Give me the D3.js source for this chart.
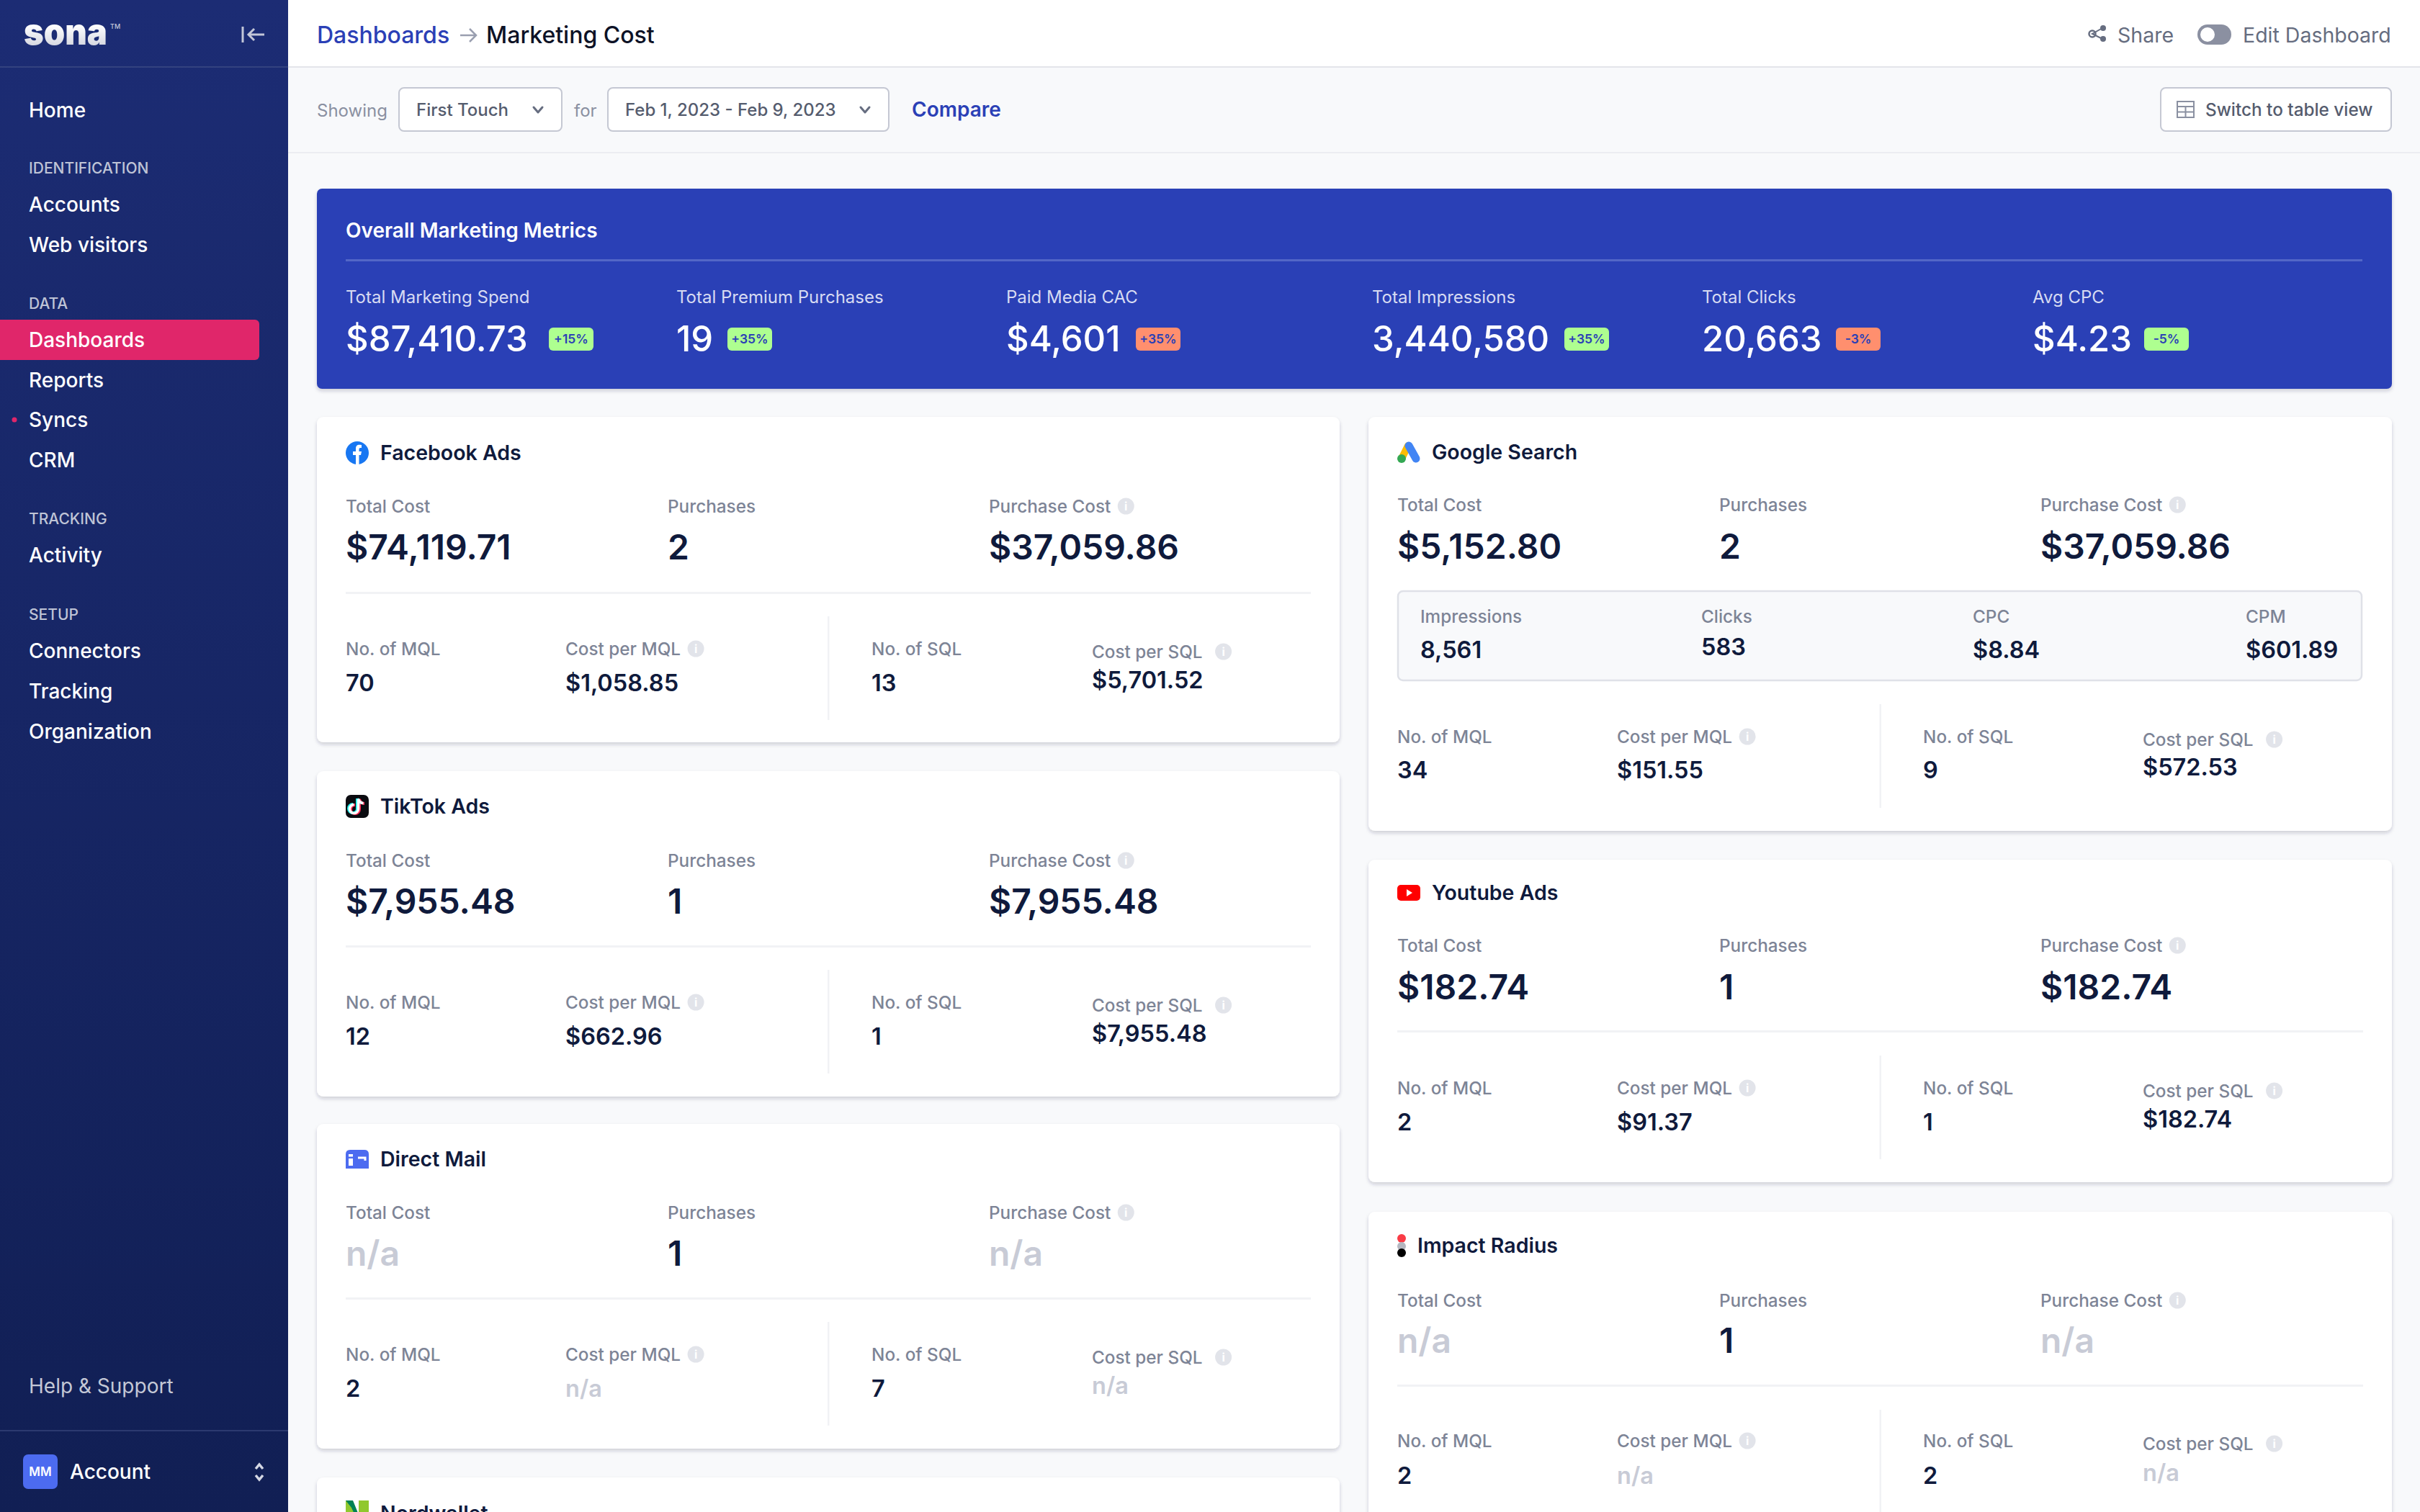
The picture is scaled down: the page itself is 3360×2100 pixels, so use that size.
<!DOCTYPE html>
<html>
<head>
<meta charset="utf-8">
<title>Marketing Cost</title>
<script src="https://cdn.jsdelivr.net/npm/d3@7"></script>
<style>
  html, body { margin: 0; padding: 0; background: #f8f9fb; overflow: hidden; }
  svg { display: block; }
  text { font-family: Inter, "Noto Sans", sans-serif; }
</style>
</head>
<body>
<script>
// Sidebar text
var navItems = ["Home", "Accounts", "Web visitors", "Dashboards", "Reports", "Syncs", "CRM", "Activity", "Connectors", "Tracking", "Organization"];
var navSections = ["IDENTIFICATION", "DATA", "TRACKING", "SETUP"];

// Overall metrics banner
var metricLabels = ["Total Marketing Spend", "Total Premium Purchases", "Paid Media CAC", "Total Impressions", "Total Clicks", "Avg CPC"];
var metricValues = ["$87,410.73", "19", "$4,601", "3,440,580", "20,663", "$4.23"];
var metricBadges = ["+15%", "+35%", "+35%", "+35%", "-3%", "-5%"];
var metricBadgeGood = [true, true, false, true, false, true];

// Channel cards, same order in every list
var channels = ["Facebook Ads", "TikTok Ads", "Direct Mail", "Nordwallet", "Google Search", "Youtube Ads", "Impact Radius"];
var totalCosts = ["$74,119.71", "$7,955.48", "n/a", null, "$5,152.80", "$182.74", "n/a"];
var purchases = ["2", "1", "1", null, "2", "1", "1"];
var purchaseCosts = ["$37,059.86", "$7,955.48", "n/a", null, "$37,059.86", "$182.74", "n/a"];
var mqlCounts = ["70", "12", "2", null, "34", "2", "2"];
var costPerMql = ["$1,058.85", "$662.96", "n/a", null, "$151.55", "$91.37", "n/a"];
var sqlCounts = ["13", "1", "7", null, "9", "1", "2"];
var costPerSql = ["$5,701.52", "$7,955.48", "n/a", null, "$572.53", "$182.74", "n/a"];

// Google Search detail strip
var detailLabels = ["Impressions", "Clicks", "CPC", "CPM"];
var detailValues = ["8,561", "583", "$8.84", "$601.89"];

// Colours
var navy = "#0f1a3c", grey = "#7d8496", naGrey = "#c8cbd6", blue = "#2b40b6", rule = "#f1f2f5";

// Page sizes
var svgWidth = 3360, svgHeight = 2100;

var svg = d3.select("body").append("svg")
  .attr("width", svgWidth)
  .attr("height", svgHeight)
  .attr("viewBox", `0 0 ${svgWidth} ${svgHeight}`);

var defs = svg.append("defs");

var sideGrad = defs.append("linearGradient").attr("id", "sideGrad")
  .attr("x1", 0).attr("y1", 0).attr("x2", 0).attr("y2", 1);
sideGrad.append("stop").attr("offset", "0%").attr("stop-color", "#1c2c74");
sideGrad.append("stop").attr("offset", "100%").attr("stop-color", "#111f54");

var logoGrad = defs.append("linearGradient").attr("id", "logoGrad")
  .attr("x1", 0).attr("y1", 0).attr("x2", 0).attr("y2", 1);
logoGrad.append("stop").attr("offset", "35%").attr("stop-color", "#ffffff");
logoGrad.append("stop").attr("offset", "85%").attr("stop-color", "#d4d6e0");

var shadow = defs.append("filter").attr("id", "cardShadow")
  .attr("x", "-3%").attr("y", "-3%").attr("width", "106%").attr("height", "106%");
shadow.append("feDropShadow").attr("dx", 0).attr("dy", 3).attr("stdDeviation", 2.5)
  .attr("flood-color", "#1a2040").attr("flood-opacity", 0.2);

// Text helper, y is the middle of the capitals
function put(g, x, y, str, size, weight, color, anchor) {
  return g.append("text")
    .attr("x", x).attr("y", y).attr("dy", "0.36em")
    .attr("font-size", size).attr("font-weight", weight)
    .attr("fill", color).attr("text-anchor", anchor || "start")
    .text(str);
}

function widthOf(sel) {
  return sel.node().getComputedTextLength();
}

function infoIcon(g, cx, cy) {
  g.append("circle").attr("cx", cx).attr("cy", cy).attr("r", 11.5).attr("fill", "#e2e4ea");
  put(g, cx, cy, "i", 16, 700, "#fff", "middle");
}

function chevron(g, cx, cy, color) {
  g.append("path")
    .attr("d", `M${cx - 6},${cy - 3} L${cx},${cy + 4} L${cx + 6},${cy - 3}`)
    .attr("fill", "none").attr("stroke", color).attr("stroke-width", 3)
    .attr("stroke-linecap", "round").attr("stroke-linejoin", "round");
}

// ---- Sidebar ----
var side = svg.append("g");
side.append("rect").attr("width", 400).attr("height", svgHeight).attr("fill", "url(#sideGrad)");
side.append("rect").attr("y", 92).attr("width", 400).attr("height", 2).attr("fill", "#33427f");
side.append("rect").attr("y", 1986).attr("width", 400).attr("height", 2).attr("fill", "#2c3a70");

put(side, 33, 43.5, "sona", 50, 900, "url(#logoGrad)")
  .attr("textLength", 116).attr("lengthAdjust", "spacingAndGlyphs");
put(side, 153, 37, "TM", 9, 500, "#c5c9dc");

side.append("path")
  .attr("d", "M337,37 V59 M367,48 H345 M353,40 L345,48 L353,56")
  .attr("fill", "none").attr("stroke", "#c3c7d8").attr("stroke-width", 3);

var navY = d3.scaleOrdinal(navItems, [153, 284, 340, 472, 528, 583, 639, 771, 904, 960, 1016]);
var sectionY = d3.scaleOrdinal(navSections, [233, 421, 720, 853]);

side.append("rect").attr("x", -10).attr("y", 444).attr("width", 370).attr("height", 56)
  .attr("rx", 6).attr("fill", "#e0266a");
side.append("circle").attr("cx", 20).attr("cy", 583).attr("r", 3.5).attr("fill", "#e0266a");

side.selectAll(".navItem").data(navItems).enter().append("text")
  .attr("class", "navItem")
  .attr("x", 40).attr("y", d => navY(d)).attr("dy", "0.36em")
  .attr("font-size", 28).attr("font-weight", 500).attr("fill", "#fff")
  .text(d => d);

side.selectAll(".navSection").data(navSections).enter().append("text")
  .attr("class", "navSection")
  .attr("x", 40).attr("y", d => sectionY(d)).attr("dy", "0.36em")
  .attr("font-size", 21).attr("font-weight", 500).attr("fill", "#bfc4d6")
  .text(d => d);

put(side, 40, 1925, "Help & Support", 28, 400, "#c4c8d6");
side.append("rect").attr("x", 32).attr("y", 2020).attr("width", 48).attr("height", 48)
  .attr("rx", 7).attr("fill", "#4c6bf0");
put(side, 56, 2044, "MM", 17, 600, "#fff", "middle");
put(side, 97, 2044, "Account", 28, 500, "#fff");
side.append("path")
  .attr("d", "M355,2040 L360,2034 L365,2040 M355,2049 L360,2055 L365,2049")
  .attr("fill", "none").attr("stroke", "#d5d8e4").attr("stroke-width", 3.5);

// ---- Header ----
var head = svg.append("g");
head.append("rect").attr("x", 400).attr("width", svgWidth - 400).attr("height", 92).attr("fill", "#fff");
head.append("rect").attr("x", 400).attr("y", 92).attr("width", svgWidth - 400).attr("height", 2).attr("fill", "#e4e5ea");

put(head, 440, 48.5, "Dashboards", 32, 500, blue);
head.append("path")
  .attr("d", "M639,49 H660 M652,40 L661,49 L652,58")
  .attr("fill", "none").attr("stroke", "#9a9fb0").attr("stroke-width", 2.5);
put(head, 675, 48.5, "Marketing Cost", 32, 500, "#0d1226");

[[2920, 39], [2920, 54]].forEach(function(p) {
  head.append("circle").attr("cx", p[0]).attr("cy", p[1]).attr("r", 4).attr("fill", "#666d80");
});
head.append("circle").attr("cx", 2905).attr("cy", 47).attr("r", 4.5).attr("fill", "#fff")
  .attr("stroke", "#666d80").attr("stroke-width", 2.5);
head.append("path").attr("d", "M2919,39 L2905,47 L2919,54").attr("fill", "none")
  .attr("stroke", "#666d80").attr("stroke-width", 2);
put(head, 2940, 48.5, "Share", 28.5, 400, "#666d80");

head.append("rect").attr("x", 3051).attr("y", 34).attr("width", 47).attr("height", 28).attr("rx", 14).attr("fill", "#8b90a1");
head.append("circle").attr("cx", 3065).attr("cy", 48).attr("r", 10).attr("fill", "#fff");
put(head, 3114, 48.5, "Edit Dashboard", 28.5, 400, "#666d80");

// ---- Toolbar ----
var bar = svg.append("g");
bar.append("rect").attr("x", 400).attr("y", 94).attr("width", svgWidth - 400).attr("height", 118).attr("fill", "#f8f9fb");
bar.append("rect").attr("x", 400).attr("y", 211).attr("width", svgWidth - 400).attr("height", 2).attr("fill", "#ecedf1");

function dropdown(x, w, str) {
  bar.append("rect").attr("x", x).attr("y", 122).attr("width", w).attr("height", 60)
    .attr("rx", 7).attr("fill", "#fff").attr("stroke", "#c5c8d3").attr("stroke-width", 2);
  put(bar, x + 24, 152, str, 24, 500, "#555c6e");
  chevron(bar, x + w - 33, 152, "#666d80");
}

put(bar, 440, 153, "Showing", 24, 400, "#8a90a1");
dropdown(554, 226, "First Touch");
put(bar, 797, 153, "for", 24, 400, "#8a90a1");
dropdown(844, 390, "Feb 1, 2023 - Feb 9, 2023");
put(bar, 1266, 152, "Compare", 28, 600, blue);

bar.append("rect").attr("x", 3000).attr("y", 122).attr("width", 320).attr("height", 60)
  .attr("rx", 7).attr("fill", "#fff").attr("stroke", "#c5c8d3").attr("stroke-width", 2);
bar.append("path")
  .attr("d", "M3023,141 H3046 V163 H3023 Z M3023,148 H3046 M3023,155.5 H3046 M3034.5,148 V163")
  .attr("fill", "none").attr("stroke", "#8a90a1").attr("stroke-width", 2);
put(bar, 3062, 152, "Switch to table view", 24.3, 500, "#555c6e");

// ---- Overall banner ----
var banner = svg.append("g");
banner.append("rect").attr("x", 440).attr("y", 262).attr("width", 2881).attr("height", 278)
  .attr("rx", 7).attr("fill", blue).attr("filter", "url(#cardShadow)");
put(banner, 480, 320, "Overall Marketing Metrics", 28, 600, "#fff");
banner.append("rect").attr("x", 480).attr("y", 360).attr("width", 2800).attr("height", 3).attr("fill", "#5367c7");

var metricX = d3.scaleOrdinal(metricLabels, [480, 939, 1397, 1905, 2363, 2822]);
var badgeX = d3.scaleOrdinal(metricLabels, [762, 1010, 1577, 2172, 2549, 2977]);

metricLabels.forEach(function(name, i) {
  var x = metricX(name);
  put(banner, x, 412, name, 24, 400, "#d7dbf2");
  put(banner, x, 470, metricValues[i], 49, 500, "#fff");
  var bx = badgeX(name);
  banner.append("rect").attr("x", bx).attr("y", 455).attr("width", 62).attr("height", 32)
    .attr("rx", 6).attr("fill", metricBadgeGood[i] ? "#aeff90" : "#ff8f6e");
  put(banner, bx + 31, 471, metricBadges[i], 17.5, 600, blue, "middle");
});

// ---- Channel cards ----
var cardLayouts = [
  { col: 0, top: 579, bottom: 1031, title: 629, labels: 703, values: 760, line: 823, div: [856, 1000], labels2: 901, values2: 948 },
  { col: 0, top: 1071, bottom: 1523, title: 1120, labels: 1195, values: 1252, line: 1314, div: [1347, 1491], labels2: 1392, values2: 1439 },
  { col: 0, top: 1561, bottom: 2012, title: 1610, labels: 1684, values: 1741, line: 1803, div: [1836, 1980], labels2: 1881, values2: 1928 },
  { col: 0, top: 2052, bottom: 2140, title: 2102 },
  { col: 1, top: 579, bottom: 1154, title: 628, labels: 701, values: 758.5, div: [978, 1122], labels2: 1023, values2: 1069 },
  { col: 1, top: 1194, bottom: 1642, title: 1240, labels: 1313, values: 1371, line: 1432, div: [1466, 1610], labels2: 1511, values2: 1558 },
  { col: 1, top: 1683, bottom: 2140, title: 1730, labels: 1806, values: 1862, line: 1924, div: [1958, 2102], labels2: 2001, values2: 2049 }
];

var colLeft = [440, 1900], cardWidth = [1420, 1421];
var xTop = d3.scaleOrdinal(["Total Cost", "Purchases", "Purchase Cost"], [40, 487, 933]);
var xLow = [d3.scaleOrdinal(["No. of MQL", "Cost per MQL", "No. of SQL", "Cost per SQL"], [40, 345, 770, 1076]),
            d3.scaleOrdinal(["No. of MQL", "Cost per MQL", "No. of SQL", "Cost per SQL"], [40, 345, 770, 1075])];

function valueColor(v) {
  return v === "n/a" ? naGrey : navy;
}

var iconDraw = {
  "Facebook Ads": function(g, x, y) {
    g.append("circle").attr("cx", x + 16).attr("cy", y).attr("r", 16).attr("fill", "#1877f2");
    g.append("path").attr("fill", "#fff")
      .attr("d", `M${x + 14},${y + 16} V${y + 3} H${x + 10} V${y - 2} H${x + 14} V${y - 6} C${x + 14},${y - 11} ${x + 17},${y - 12} ${x + 22},${y - 11} V${y - 7} C${x + 19},${y - 7} ${x + 18.5},${y - 7} ${x + 18.5},${y - 4} V${y - 2} H${x + 22} L${x + 21},${y + 3} H${x + 18.5} V${y + 16} Z`);
  },
  "TikTok Ads": function(g, x, y) {
    g.append("rect").attr("x", x).attr("y", y - 16).attr("width", 32).attr("height", 32).attr("rx", 7).attr("fill", "#0b0b10");
    g.append("path").attr("fill", "none").attr("stroke", "#fe2c55").attr("stroke-width", 4)
      .attr("d", `M${x + 19},${y - 10} V${y + 4} A6,6 0 1 1 ${x + 13},${y - 2} M${x + 19},${y - 10} C${x + 20},${y - 6} ${x + 22},${y - 4} ${x + 26},${y - 4}`);
    g.append("path").attr("fill", "none").attr("stroke", "#25f4ee").attr("stroke-width", 4)
      .attr("d", `M${x + 16},${y - 11} V${y + 3} A6,6 0 1 1 ${x + 10},${y - 3} M${x + 16},${y - 11} C${x + 17},${y - 7} ${x + 19},${y - 5} ${x + 23},${y - 5}`);
    g.append("path").attr("fill", "none").attr("stroke", "#fff").attr("stroke-width", 3.5)
      .attr("d", `M${x + 17.5},${y - 10.5} V${y + 3.5} A6,6 0 1 1 ${x + 11.5},${y - 2.5} M${x + 17.5},${y - 10.5} C${x + 18.5},${y - 6.5} ${x + 20.5},${y - 4.5} ${x + 24.5},${y - 4.5}`);
  },
  "Direct Mail": function(g, x, y) {
    g.append("path").attr("fill", "#4c6bf0")
      .attr("d", `M${x + 6},${y - 13} H${x + 26} Q${x + 32},${y - 13} ${x + 32},${y - 7} V${y + 13} H${x} V${y - 7} Q${x},${y - 13} ${x + 6},${y - 13} Z`);
    g.append("rect").attr("x", x + 4).attr("y", y - 7).attr("width", 6).attr("height", 3.5).attr("fill", "#fff");
    g.append("rect").attr("x", x + 4).attr("y", y - 1).attr("width", 6).attr("height", 10).attr("fill", "#fff");
    g.append("path").attr("fill", "none").attr("stroke", "#fff").attr("stroke-width", 3)
      .attr("d", `M${x + 17},${y - 2} H${x + 27} V${y + 2}`);
  },
  "Nordwallet": function(g, x, y) {
    var t = y - 18;
    g.append("path").attr("fill", "#90c82e").attr("d", `M${x},${t} H${x + 5} L${x + 14},${t + 18} V${t + 36} H${x} Z`);
    g.append("path").attr("fill", "#008254").attr("d", `M${x},${t} H${x + 10} L${x + 23},${t + 32} L${x + 20},${t + 36} L${x + 8},${t + 10} Z`);
    g.append("path").attr("fill", "#90c82e").attr("d", `M${x + 18},${t} H${x + 32} V${t + 36} H${x + 26} L${x + 18},${t + 16} Z`);
  },
  "Google Search": function(g, x, y) {
    g.append("path").attr("stroke", "#fbbc04").attr("stroke-width", 10).attr("stroke-linecap", "round").attr("d", `M${x + 6},${y + 9} L${x + 15},${y - 9}`);
    g.append("path").attr("stroke", "#4285f4").attr("stroke-width", 11).attr("stroke-linecap", "round").attr("d", `M${x + 16},${y - 9} L${x + 26},${y + 9}`);
    g.append("circle").attr("cx", x + 6).attr("cy", y + 9).attr("r", 6).attr("fill", "#34a853");
  },
  "Youtube Ads": function(g, x, y) {
    g.append("rect").attr("x", x).attr("y", y - 11).attr("width", 32).attr("height", 22).attr("rx", 5).attr("fill", "#f00");
    g.append("path").attr("fill", "#fff").attr("d", `M${x + 13},${y - 5} L${x + 21},${y} L${x + 13},${y + 5} Z`);
  },
  "Impact Radius": function(g, x, y) {
    g.append("circle").attr("cx", x + 6).attr("cy", y - 10).attr("r", 6).attr("fill", "#fa3c46");
    g.append("circle").attr("cx", x + 6).attr("cy", y + 1).attr("r", 6).attr("fill", "#b4b7c0");
    g.append("circle").attr("cx", x + 6).attr("cy", y + 10).attr("r", 6).attr("fill", "#000");
  }
};

channels.forEach(function(name, i) {
  var lay = cardLayouts[i];
  var left = colLeft[lay.col];
  var w = cardWidth[lay.col];
  var g = svg.append("g");

  g.append("rect").attr("x", left).attr("y", lay.top).attr("width", w).attr("height", lay.bottom - lay.top)
    .attr("rx", 9).attr("fill", "#fff").attr("filter", "url(#cardShadow)");

  iconDraw[name](g, left + 40, lay.title);
  var titleX = name === "Impact Radius" ? 68 : 88;
  put(g, left + titleX, lay.title, name, 28.5, 600, navy);

  if (totalCosts[i] === null) return;

  // Top row
  xTop.domain().forEach(function(lab) {
    var t = put(g, left + xTop(lab), lay.labels, lab, 24.3, 500, grey);
    if (lab === "Purchase Cost") infoIcon(g, left + xTop(lab) + widthOf(t) + 21, lay.labels);
  });
  [totalCosts, purchases, purchaseCosts].forEach(function(list, k) {
    put(g, left + xTop(xTop.domain()[k]), lay.values, list[i], 48, 600, valueColor(list[i]));
  });

  if (lay.line) {
    g.append("rect").attr("x", left + 40).attr("y", lay.line - 1).attr("width", w - 80).attr("height", 3).attr("fill", rule);
  }

  // Bottom row
  var xl = xLow[lay.col];
  var xMid = left + w / 2;
  g.append("rect").attr("x", xMid - 1).attr("y", lay.div[0]).attr("width", 2.5).attr("height", lay.div[1] - lay.div[0]).attr("fill", rule);

  put(g, left + xl("No. of MQL"), lay.labels2, "No. of MQL", 24.3, 500, grey);
  put(g, left + xl("No. of MQL"), lay.values2, mqlCounts[i], 32.5, 600, navy);
  var t2 = put(g, left + xl("Cost per MQL"), lay.labels2, "Cost per MQL", 24.3, 500, grey);
  infoIcon(g, left + xl("Cost per MQL") + widthOf(t2) + 21, lay.labels2);
  put(g, left + xl("Cost per MQL"), lay.values2, costPerMql[i], 32.5, 600, valueColor(costPerMql[i]));
  put(g, left + xl("No. of SQL"), lay.labels2, "No. of SQL", 24.3, 500, grey);
  put(g, left + xl("No. of SQL"), lay.values2, sqlCounts[i], 32.5, 600, navy);
  // this pair sits a little off the row in the original
  var t4 = put(g, left + xl("Cost per SQL"), lay.labels2 + 4, "Cost per SQL", 24.3, 500, grey);
  infoIcon(g, left + xl("Cost per SQL") + widthOf(t4) + 29, lay.labels2 + 4);
  put(g, left + xl("Cost per SQL"), lay.values2 - 4, costPerSql[i], 32.5, 600, valueColor(costPerSql[i]));
});

// Google Search detail strip
var detail = svg.append("g");
detail.append("rect").attr("x", 1941).attr("y", 821).attr("width", 1338).attr("height", 124)
  .attr("rx", 7).attr("fill", "#f8f9fb").attr("stroke", "#dfe1e8").attr("stroke-width", 2.5);
var detailX = d3.scaleOrdinal(detailLabels, [1972, 2362, 2739, 3118]);
detailLabels.forEach(function(lab, i) {
  put(detail, detailX(lab), 856, lab, 24.3, 500, grey);
  put(detail, detailX(lab), lab === "Clicks" ? 898 : 902, detailValues[i], 32.5, 600, navy);
});
</script>
</body>
</html>
